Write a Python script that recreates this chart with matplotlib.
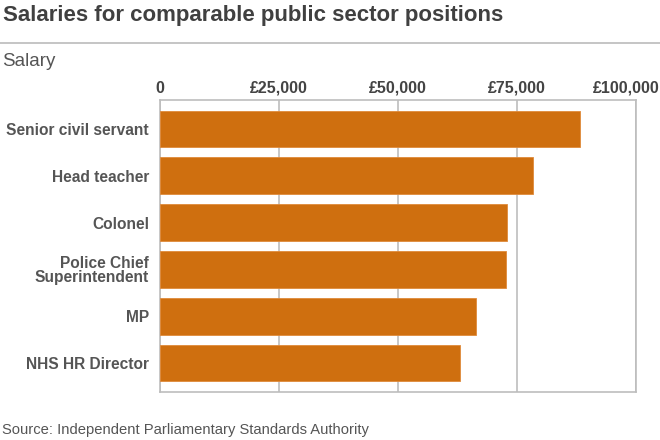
import matplotlib
matplotlib.use("Agg")
import matplotlib.pyplot as plt
import matplotlib.transforms as mtransforms
from matplotlib.ticker import FuncFormatter

plt.rcParams['font.family'] = ['Liberation Sans', 'DejaVu Sans']

# data
positions = ["Senior civil servant", "Head teacher", "Colonel",
             "Police Chief\nSuperintendent", "MP", "NHS HR Director"]
salaries = [88200, 78400, 73000, 72700, 66400, 63100]
ticks = [0, 25000, 50000, 75000, 100000]

bar_color = "#CF6F0F"
grid_color = "#BDBDBD"
text_color = "#555555"

fig = plt.figure(figsize=(6.6, 4.4), dpi=100)
ax = fig.add_axes([160/660, 1 - 392/440, 476/660, 292/440])

y = range(len(positions))
ax.barh(y, salaries, height=0.79, color=bar_color, edgecolor="#E08A3A",
        linewidth=0.6, zorder=3)

ax.set_xlim(0, 100000)
ax.set_ylim(len(positions) - 0.38, -0.62)
ax.set_xticks(ticks)
ax.xaxis.set_major_formatter(FuncFormatter(lambda v, p: "0" if v == 0 else f"£{v:,.0f}"))
ax.xaxis.tick_top()
ax.tick_params(axis="x", length=0, pad=3, labelsize=11.5, labelcolor="#444444")
for lbl in ax.get_xticklabels():
    lbl.set_fontweight("bold")
# last label sits a bit left so it stays inside the picture
last = ax.get_xticklabels()[-1]
last.set_transform(last.get_transform() +
                   mtransforms.ScaledTranslation(-10/100, 0, fig.dpi_scale_trans))
ax.grid(axis="x", color=grid_color, linewidth=1.2, zorder=0)

ax.set_yticks(list(y))
ax.set_yticklabels(positions, fontweight="bold", fontsize=11.2, color=text_color,
                   linespacing=0.92)
ax.tick_params(axis="y", length=0, pad=8)

for s in ax.spines.values():
    s.set_color(grid_color)
    s.set_linewidth(1.2)

fig.text(3/660, 1 - 16/440, "Salaries for comparable public sector positions",
         fontsize=16, fontweight="bold", color="#404040", va="center", ha="left")
fig.add_artist(plt.Line2D([0, 1], [1 - 43/440, 1 - 43/440], color="#BBBBBB",
                          linewidth=1.2))
fig.text(2/660, 1 - 61/440, "Salary", fontsize=13.5, color=text_color,
         va="center", ha="left")
fig.text(2/660, 1 - 430/440, "Source: Independent Parliamentary Standards Authority",
         fontsize=10.6, color=text_color, va="center", ha="left")

fig.savefig("out.png", dpi=100)
